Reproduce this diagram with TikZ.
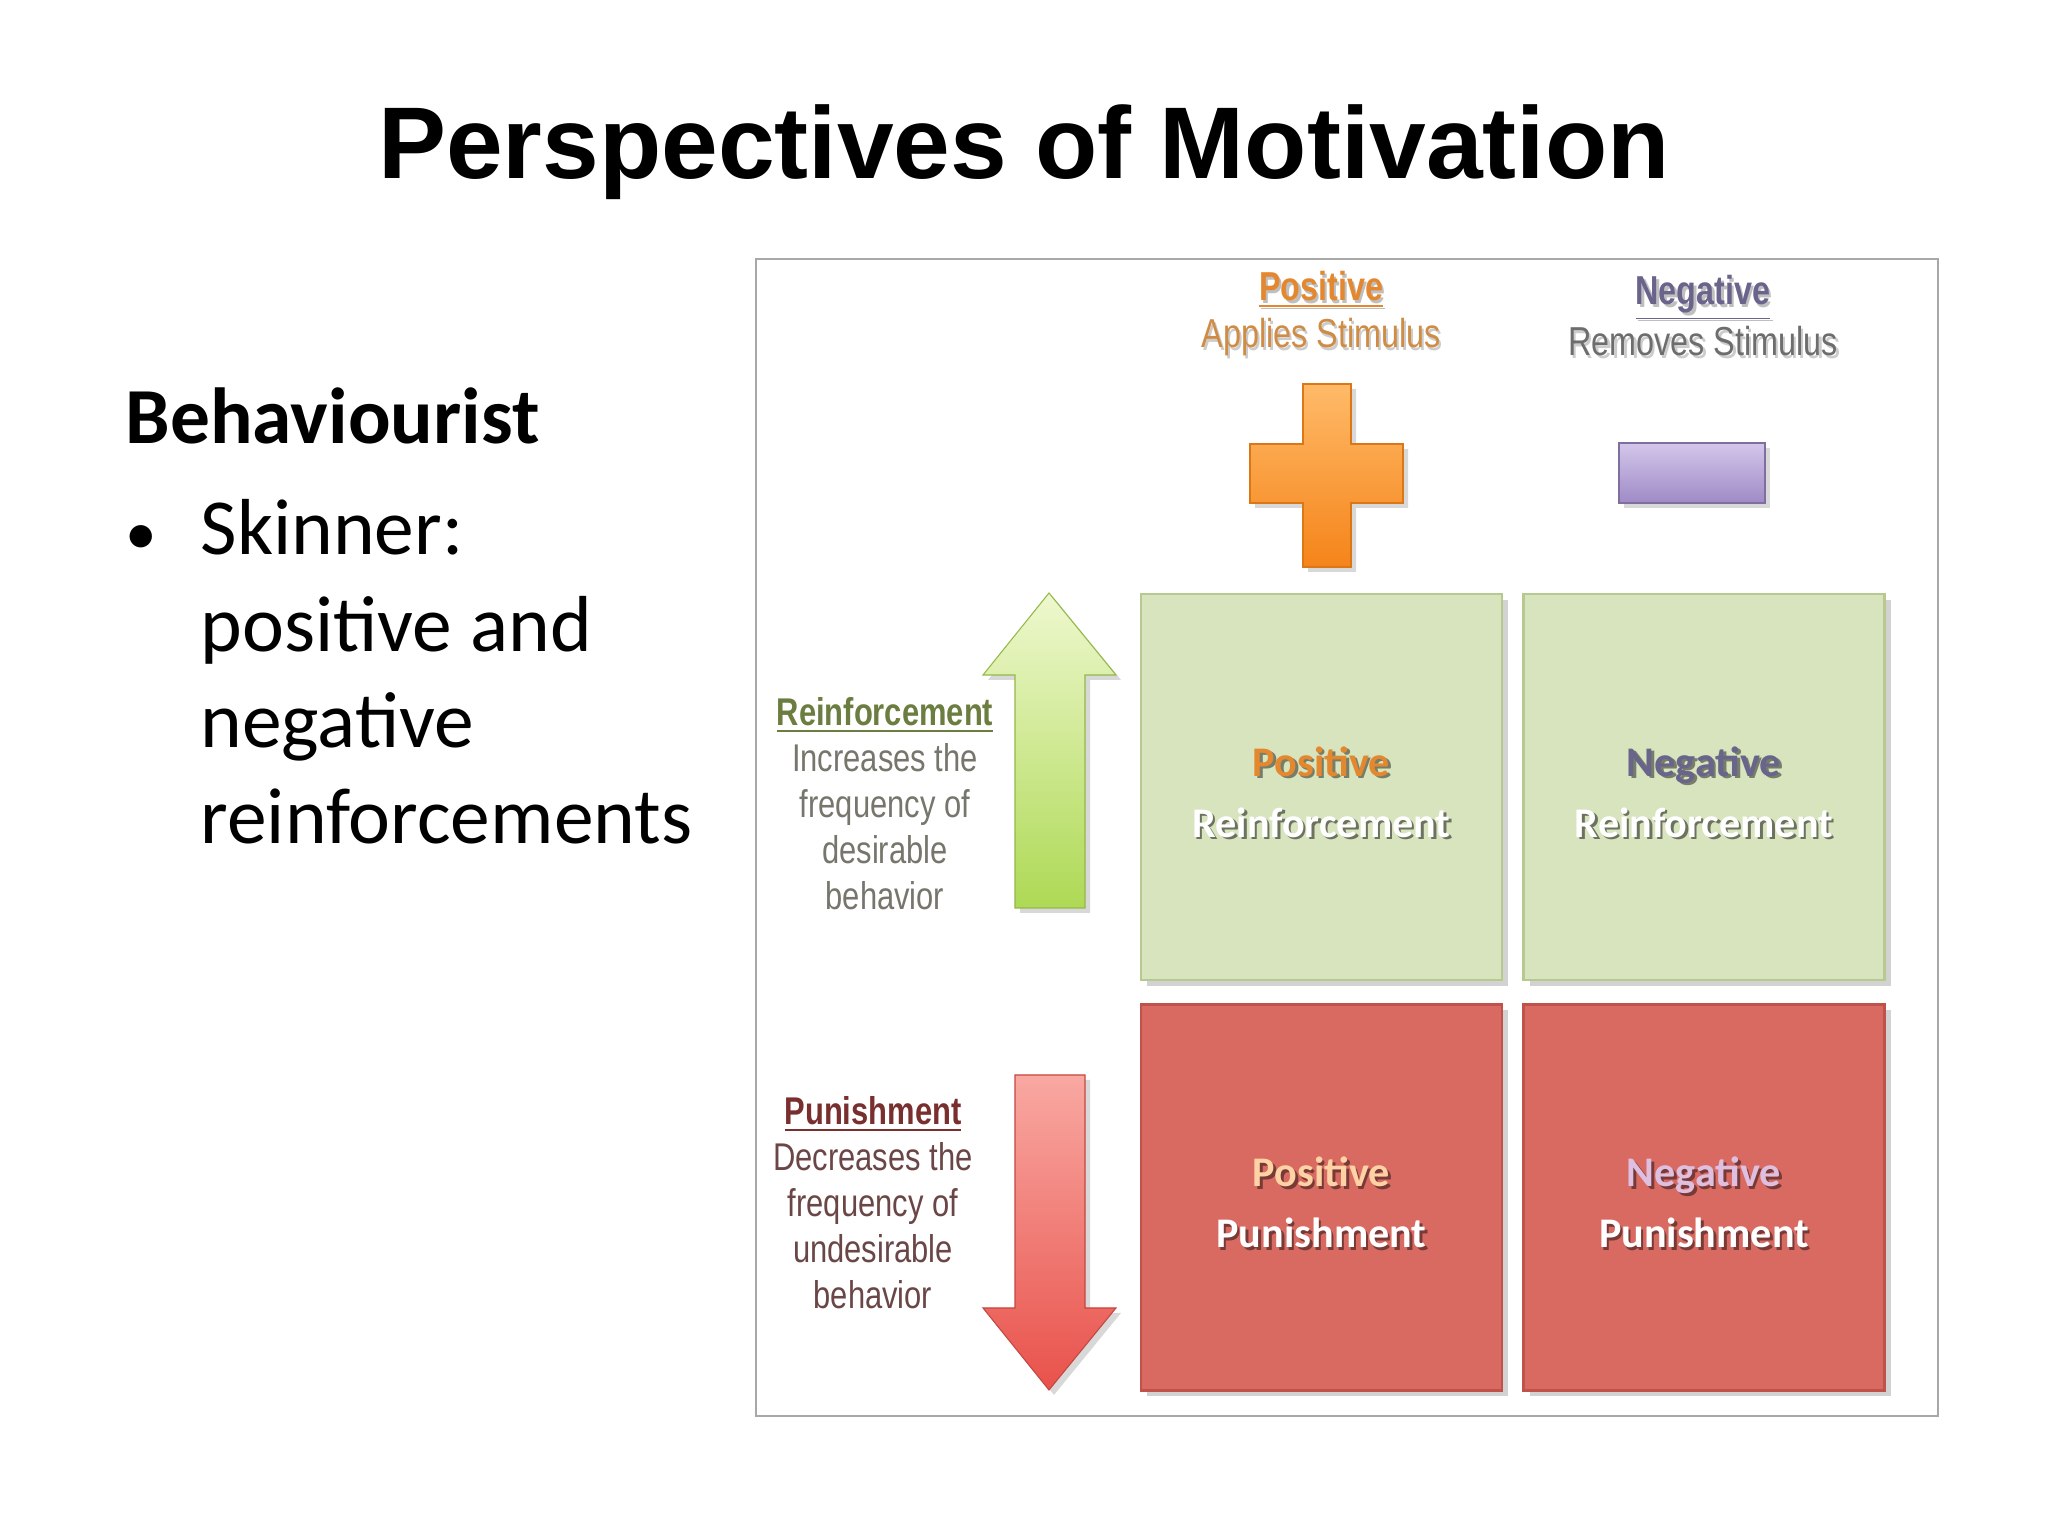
\documentclass[tikz,border=0pt]{standalone}
\usepackage{fontspec}
\setmainfont{Carlito}
\newfontfamily\headfont{Liberation Sans}
\newfontfamily\narrowfont{Liberation Sans}[FakeStretch=0.8]
\usepackage{xcolor}
\usetikzlibrary{shadows}

\definecolor{boxgreen}{HTML}{D7E4BD}
\definecolor{boxgreenline}{HTML}{B7C98E}
\definecolor{boxred}{HTML}{D96A62}
\definecolor{boxredline}{HTML}{C0524B}
\definecolor{plustop}{HTML}{FFBA68}
\definecolor{plusbot}{HTML}{F5841A}
\definecolor{minustop}{HTML}{D3C6EA}
\definecolor{minusbot}{HTML}{9F8AC6}
\definecolor{uptop}{HTML}{EEF8CE}
\definecolor{upbot}{HTML}{AED955}
\definecolor{downtop}{HTML}{F9A8A2}
\definecolor{downbot}{HTML}{E8524B}
\definecolor{posorange}{HTML}{E3882F}
\definecolor{poslight}{HTML}{D08C45}
\definecolor{negpurple}{HTML}{69648C}
\definecolor{neggray}{HTML}{6D6D6D}
\definecolor{reinfgreen}{HTML}{6B7D3F}
\definecolor{reinftext}{HTML}{76766C}
\definecolor{punred}{HTML}{7A2F2F}
\definecolor{puntext}{HTML}{6B4646}
\definecolor{framegray}{HTML}{A8A8A8}

% text with a small soft shadow
\newcommand{\shd}[2]{\makebox[0pt][l]{\hspace{0.7pt}\raisebox{-0.7pt}{\color{#1}#2}}#2}

\tikzset{
  cell/.style={minimum width=3.61cm, minimum height=3.86cm, inner sep=0pt,
    line width=0.6pt, align=center,
    font=\bfseries\fontsize{12}{17.3}\selectfont,
    drop shadow={opacity=0.35, shadow xshift=0.6mm, shadow yshift=-0.6mm}},
  reinfcell/.style={cell, fill=boxgreen, draw=boxgreenline},
  puncell/.style={cell, fill=boxred, draw=boxredline},
  headtext/.style={font=\narrowfont\fontsize{11.5}{13.4}\selectfont, align=center},
  sidetext/.style={font=\narrowfont\fontsize{11}{13.1}\selectfont, align=center},
  slidetext/.style={font=\fontsize{22.6}{27}\selectfont, anchor=base west, inner sep=0pt}
}

\begin{document}
\begin{tikzpicture}
  \fill[white] (0,0) rectangle (20.48,15.36);
  \useasboundingbox (0,0) rectangle (20.48,15.36);

  % slide title and bullet text
  \node[anchor=base, font=\headfont\bfseries\fontsize{29}{34}\selectfont] (title) at (10.24,13.57) {Perspectives of Motivation};
  \node[slidetext, font=\bfseries\fontsize{22.6}{27}\selectfont] (behav) at (1.25,10.92) {Behaviourist};
  \node[slidetext, font=\fontsize{18}{27}\selectfont] (bullet) at (1.25,9.81) {•};
  \node[slidetext] (line1) at (2.00,9.81) {Skinner:};
  \node[slidetext] (line2) at (2.00,8.84) {positive and};
  \node[slidetext] (line3) at (2.00,7.88) {negative};
  \node[slidetext] (line4) at (2.00,6.92) {reinforcements};

  % frame of the chart
  \draw[framegray, line width=0.8pt] (7.56,1.20) rectangle (19.38,12.77);

  % column heads
  \node[headtext, text=poslight] (poshead) at (13.21,12.21)
    {\bfseries\color{posorange}\shd{black!25}{\underline{Positive}}\\\shd{black!20}{Applies Stimulus}};
  \node[headtext, text=neggray] (neghead) at (17.03,12.19)
    {\bfseries\color{negpurple}\shd{black!25}{\underline{Negative}}\\\shd{black!20}{Removes Stimulus}};

  % plus and minus signs
  \shade[top color=plustop, bottom color=plusbot, draw=plusbot!90!black, line width=0.3pt,
    drop shadow={opacity=0.3, shadow xshift=0.5mm, shadow yshift=-0.5mm}]
    (13.03,11.52) -- (13.51,11.52) -- (13.51,10.92) -- (14.03,10.92) -- (14.03,10.33)
    -- (13.51,10.33) -- (13.51,9.69) -- (13.03,9.69) -- (13.03,10.33) -- (12.50,10.33)
    -- (12.50,10.92) -- (13.03,10.92) -- cycle;
  \shade[top color=minustop, bottom color=minusbot, draw=minusbot!80!black, line width=0.3pt,
    drop shadow={opacity=0.3, shadow xshift=0.5mm, shadow yshift=-0.5mm}]
    (16.19,10.33) rectangle (17.65,10.93);

  % row labels
  \node[sidetext, text=reinftext] (reinflabel) at (8.85,7.32)
    {\bfseries\color{reinfgreen}\underline{Reinforcement}\\Increases the\\frequency of\\desirable\\behavior};
  \node[sidetext, text=puntext] (punlabel) at (8.73,3.33)
    {\bfseries\color{punred}\underline{Punishment}\\Decreases the\\frequency of\\undesirable\\behavior};

  % up and down arrows
  \shade[top color=uptop, bottom color=upbot, draw=upbot!85!black, line width=0.3pt,
    drop shadow={opacity=0.3, shadow xshift=0.5mm, shadow yshift=-0.5mm}]
    (10.49,9.43) -- (11.16,8.61) -- (10.85,8.61) -- (10.85,6.28) -- (10.15,6.28)
    -- (10.15,8.61) -- (9.83,8.61) -- cycle;
  \shade[top color=downtop, bottom color=downbot, draw=downbot!85!black, line width=0.3pt,
    drop shadow={opacity=0.3, shadow xshift=0.5mm, shadow yshift=-0.5mm}]
    (10.15,4.61) -- (10.85,4.61) -- (10.85,2.28) -- (11.16,2.28) -- (10.49,1.46)
    -- (9.83,2.28) -- (10.15,2.28) -- cycle;

  % the four cells
  \node[reinfcell] (posreinf) at (13.215,7.49)
    {\rule{0pt}{12pt}\color{posorange}\shd{boxgreen!55!black}{Positive}\\\color{white}\shd{boxgreen!50!black}{Reinforcement}};
  \node[reinfcell] (negreinf) at (17.04,7.49)
    {\rule{0pt}{12pt}\color{negpurple}\shd{boxgreen!55!black}{Negative}\\\color{white}\shd{boxgreen!50!black}{Reinforcement}};
  \node[puncell] (pospun) at (13.215,3.385)
    {\rule{0pt}{12pt}\color{orange!35!white}\shd{boxred!55!black}{Positive}\\\color{white}\shd{boxred!55!black}{Punishment}};
  \node[puncell] (negpun) at (17.04,3.385)
    {\rule{0pt}{12pt}\color{violet!25!white}\shd{boxred!55!black}{Negative}\\\color{white}\shd{boxred!55!black}{Punishment}};

\end{tikzpicture}
\end{document}
